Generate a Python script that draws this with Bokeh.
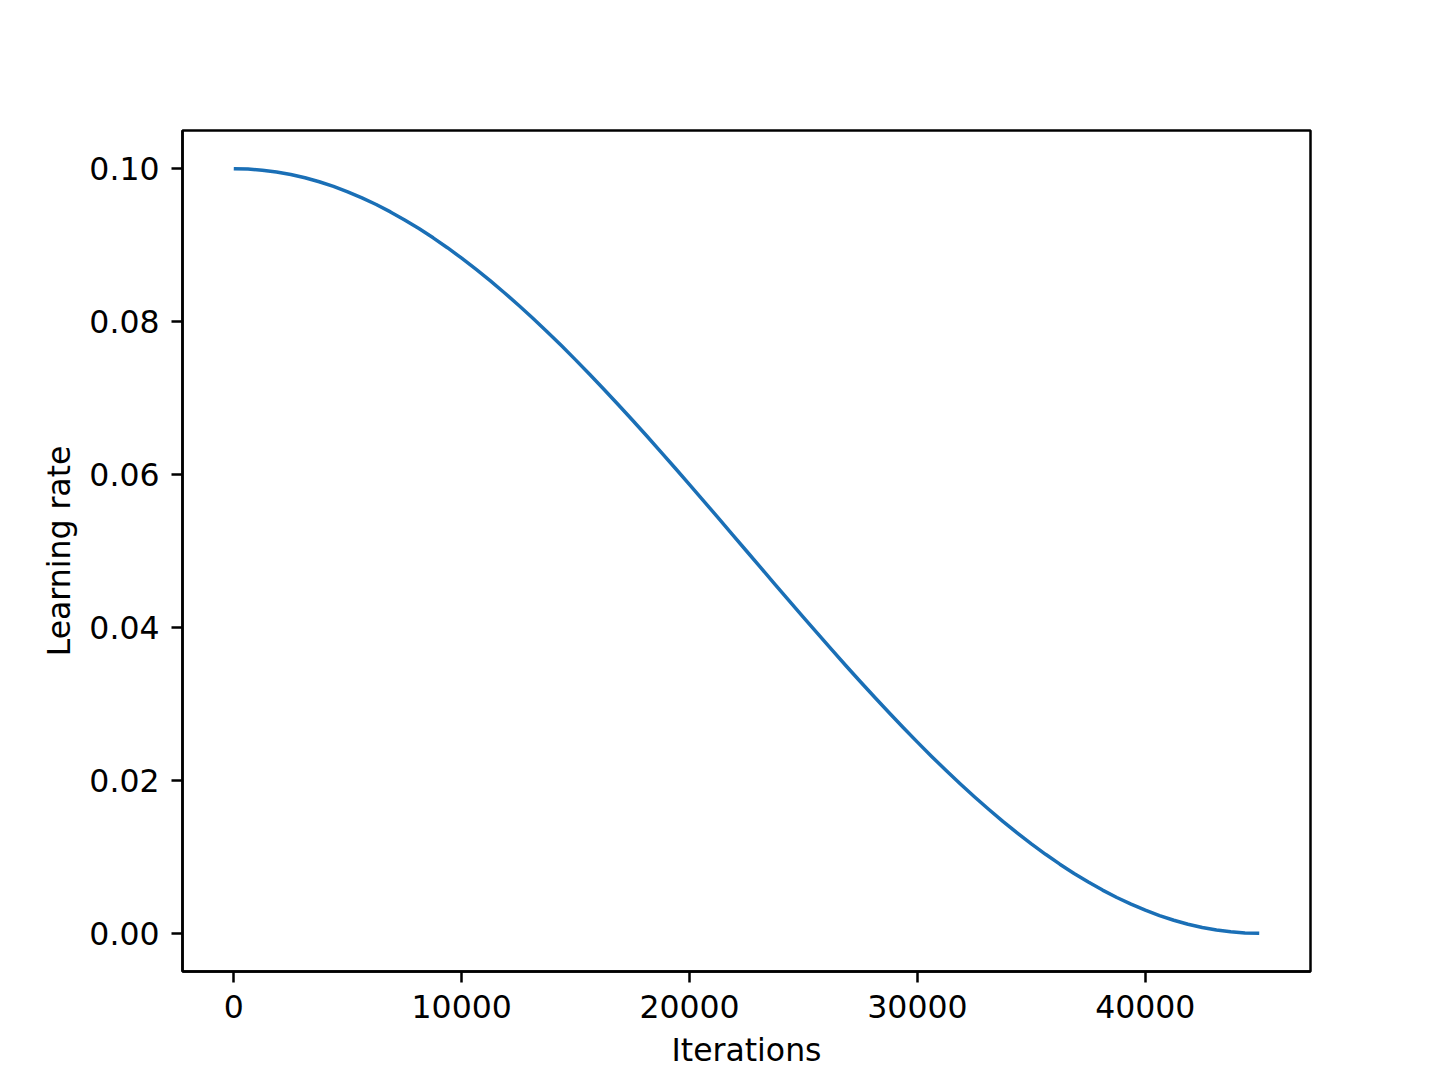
from bokeh.plotting import figure
from bokeh.models import Range1d, FixedTicker, CustomJSTickFormatter
from bokeh.embed import file_html
from bokeh.resources import INLINE

iterations = [0, 625, 1250, 1875, 2500, 3125, 3750, 4375, 5000, 5625, 6250,
              6875, 7500, 8125, 8750, 9375, 10000, 10625, 11250, 11875, 12500,
              13125, 13750, 14375, 15000, 15625, 16250, 16875, 17500, 18125,
              18750, 19375, 20000, 20625, 21250, 21875, 22500, 23125, 23750,
              24375, 25000, 25625, 26250, 26875, 27500, 28125, 28750, 29375,
              30000, 30625, 31250, 31875, 32500, 33125, 33750, 34375, 35000,
              35625, 36250, 36875, 37500, 38125, 38750, 39375, 40000, 40625,
              41250, 41875, 42500, 43125, 43750, 44375, 45000]
learning_rate = [0.10000, 0.09995, 0.09981, 0.09957, 0.09924, 0.09882, 0.09830,
                 0.09769, 0.09698, 0.09619, 0.09532, 0.09435, 0.09330, 0.09217,
                 0.09096, 0.08967, 0.08830, 0.08686, 0.08536, 0.08378, 0.08214,
                 0.08044, 0.07868, 0.07687, 0.07500, 0.07309, 0.07113, 0.06913,
                 0.06710, 0.06504, 0.06294, 0.06082, 0.05868, 0.05653, 0.05436,
                 0.05218, 0.05000, 0.04782, 0.04564, 0.04347, 0.04132, 0.03918,
                 0.03706, 0.03496, 0.03290, 0.03087, 0.02887, 0.02691, 0.02500,
                 0.02313, 0.02132, 0.01956, 0.01786, 0.01622, 0.01464, 0.01314,
                 0.01170, 0.01033, 0.00904, 0.00783, 0.00670, 0.00565, 0.00468,
                 0.00381, 0.00302, 0.00231, 0.00170, 0.00118, 0.00076, 0.00043,
                 0.00019, 0.00005, 0.00000]
x_ticks = [0, 10000, 20000, 30000, 40000]
y_ticks = [0.0, 0.02, 0.04, 0.06, 0.08, 0.10]

FONT = "DejaVu Sans"
FS = "31.5px"

p = figure(width=1448, height=1084, output_backend="svg", toolbar_location=None,
           x_range=Range1d(-2250, 47250), y_range=Range1d(-0.005, 0.105),
           min_border_left=182, min_border_right=138, min_border_top=130,
           min_border_bottom=113)

p.line(iterations, learning_rate, line_color="#1a6fb6", line_width=3.5,
       line_join="round")

p.grid.visible = False
p.outline_line_color = "black"
p.outline_line_width = 2.5

for ax in (p.xaxis[0], p.yaxis[0]):
    ax.axis_line_width = 2.5
    ax.major_tick_line_width = 2.5
    ax.major_tick_out = 11
    ax.major_tick_in = 0
    ax.minor_tick_line_color = None
    ax.major_label_text_font = FONT
    ax.major_label_text_font_size = FS
    ax.major_label_text_color = "black"
    ax.axis_label_text_font = FONT
    ax.axis_label_text_font_size = FS
    ax.axis_label_text_font_style = "normal"
    ax.axis_label_text_color = "black"

p.xaxis.ticker = FixedTicker(ticks=x_ticks)
p.yaxis.ticker = FixedTicker(ticks=y_ticks)
p.yaxis.formatter = CustomJSTickFormatter(code="return tick.toFixed(2);")
p.xaxis.formatter = CustomJSTickFormatter(code="return tick.toFixed(0);")
p.xaxis.axis_label = "Iterations"
p.yaxis.axis_label = "Learning rate"
p.xaxis.major_label_standoff = 12
p.yaxis.major_label_standoff = 12
p.xaxis.axis_label_standoff = 11
p.yaxis.axis_label_standoff = 9

open("out.html", "w").write(file_html(p, INLINE))
